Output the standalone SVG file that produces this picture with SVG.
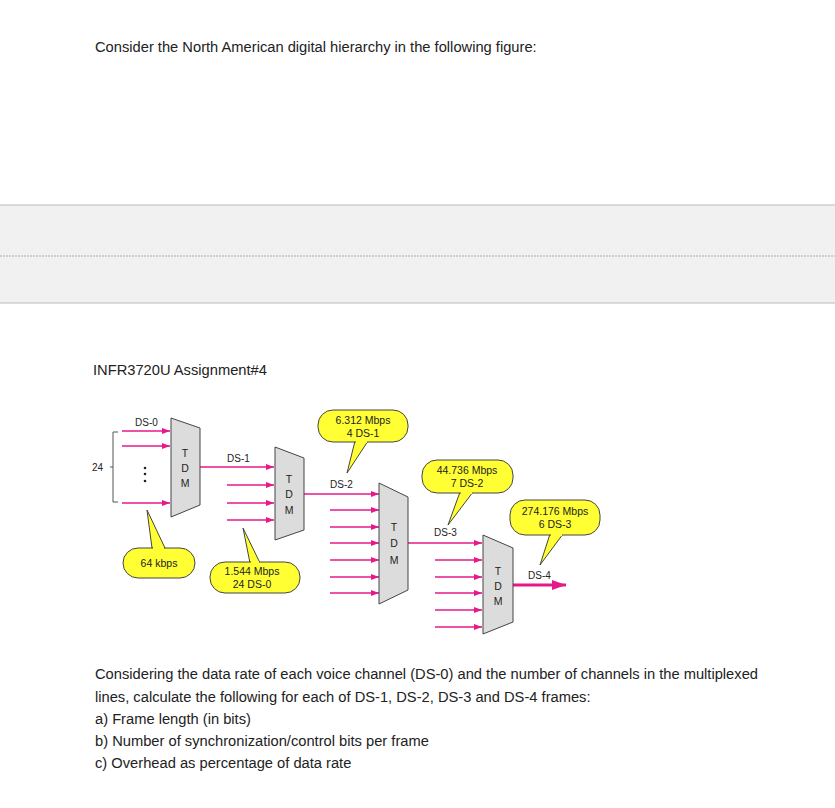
<svg xmlns="http://www.w3.org/2000/svg" width="835" height="808" viewBox="0 0 835 808">
<style>
.t{font-family:"Liberation Sans",Arial,sans-serif;font-size:14.7px;fill:#222}
.s{font-family:"Liberation Sans",Arial,sans-serif;font-size:10px;fill:#222}
.b{font-family:"Liberation Sans",Arial,sans-serif;font-size:10.5px;fill:#222;text-anchor:middle}
.m{fill:#dcdcdc;stroke:#444;stroke-width:1}
.c{fill:#ffff33;stroke:#444;stroke-width:1}
.a line{stroke:#e6198a;stroke-width:1.4;marker-end:url(#ah)}
</style>
<defs>
<marker id="ah" markerWidth="8" markerHeight="6" refX="8" refY="3" orient="auto" markerUnits="userSpaceOnUse"><path d="M0,0L8,3L0,6Z" fill="#e6198a"/></marker>
<marker id="ah2" markerWidth="14" markerHeight="10" refX="14" refY="5" orient="auto" markerUnits="userSpaceOnUse"><path d="M0,0L14,5L0,10Z" fill="#e6198a"/></marker>
</defs>
<rect width="835" height="808" fill="#fff"/>
<text class="t" x="95" y="52">Consider the North American digital hierarchy in the following figure:</text>
<rect x="0" y="205" width="835" height="98" fill="#f1f1f1"/>
<line x1="0" y1="205" x2="835" y2="205" stroke="#bbb"/>
<line x1="0" y1="303" x2="835" y2="303" stroke="#bbb"/>
<line x1="0" y1="256" x2="835" y2="256" stroke="#aaa" stroke-dasharray="2,1"/>
<text class="t" x="93" y="375">INFR3720U Assignment#4</text>

<g id="connectors" class="a">
<line x1="122" y1="431" x2="170" y2="431"/><line x1="122" y1="446" x2="170" y2="446"/><line x1="122" y1="503" x2="170" y2="503"/>
<line x1="200" y1="467" x2="274" y2="467"/><line x1="227" y1="485" x2="274" y2="485"/><line x1="227" y1="503" x2="274" y2="503"/><line x1="227" y1="520" x2="274" y2="520"/>
<line x1="304" y1="494" x2="379" y2="494"/><line x1="330" y1="510" x2="379" y2="510"/><line x1="330" y1="527" x2="379" y2="527"/><line x1="330" y1="543" x2="379" y2="543"/><line x1="330" y1="560" x2="379" y2="560"/><line x1="330" y1="577" x2="379" y2="577"/><line x1="330" y1="593" x2="379" y2="593"/>
<line x1="408" y1="543" x2="482" y2="543"/><line x1="435" y1="560" x2="482" y2="560"/><line x1="435" y1="577" x2="482" y2="577"/><line x1="435" y1="593" x2="482" y2="593"/><line x1="435" y1="610" x2="482" y2="610"/><line x1="435" y1="627" x2="482" y2="627"/>
<path d="M513,585H566" stroke="#e6198a" stroke-width="3" marker-end="url(#ah2)"/>
</g>

<g id="ds0">
<text class="s" x="135" y="426">DS-0</text>
<path d="M118,432H113V502H118M113,467H110" stroke="#555" fill="none"/>
<text class="s" x="92" y="471">24</text>
<circle cx="145" cy="468" r="1.3" fill="#222"/><circle cx="145" cy="474" r="1.3" fill="#222"/><circle cx="145" cy="481" r="1.3" fill="#222"/>
</g>
<g id="tdm1"><path class="m" d="M171,418L200,428V505L171,517Z"/><text class="b" x="185" y="457">T</text><text class="b" x="185" y="472">D</text><text class="b" x="185" y="487">M</text></g>
<g id="tdm2"><path class="m" d="M275,447L304,458V530L275,540Z"/><text class="b" x="289" y="483">T</text><text class="b" x="289" y="498">D</text><text class="b" x="289" y="514">M</text></g>
<g id="tdm3"><path class="m" d="M379,483L408,497V590L379,604Z"/><text class="b" x="394" y="531">T</text><text class="b" x="394" y="547">D</text><text class="b" x="394" y="564">M</text></g>
<g id="tdm4"><path class="m" d="M483,535L513,548V622L483,634Z"/><text class="b" x="498" y="575">T</text><text class="b" x="498" y="590">D</text><text class="b" x="498" y="605">M</text></g>
<g id="labels">
<text class="s" x="227" y="462">DS-1</text>
<text class="s" x="330" y="488">DS-2</text>
<text class="s" x="434" y="536">DS-3</text>
<text class="s" x="528" y="579">DS-4</text>
</g>
<g id="c1"><path class="c" d="M152,548L147,510L165,548Z"/><rect class="c" x="123" y="548" width="72" height="30" rx="15"/><path d="M153,548H164" stroke="#ffff33" stroke-width="2"/><text class="b" x="159" y="567">64 kbps</text></g>
<g id="c2"><path class="c" d="M250,563L243,528L260,563Z"/><rect class="c" x="210" y="562" width="90" height="31" rx="15"/><path d="M251,562H259" stroke="#ffff33" stroke-width="2"/><text class="b" x="252" y="575">1.544 Mbps</text><text class="b" x="252" y="588">24 DS-0</text></g>
<g id="c3"><path class="c" d="M355,441L347,473L368,441Z"/><rect class="c" x="318" y="410" width="90" height="32" rx="15"/><path d="M356,442H367" stroke="#ffff33" stroke-width="2"/><text class="b" x="363" y="424">6.312 Mbps</text><text class="b" x="363" y="437">4 DS-1</text></g>
<g id="c4"><path class="c" d="M460,492L448,525L473,492Z"/><rect class="c" x="422" y="460" width="91" height="33" rx="15"/><path d="M461,493H472" stroke="#ffff33" stroke-width="2"/><text class="b" x="467" y="474">44.736 Mbps</text><text class="b" x="467" y="487">7 DS-2</text></g>
<g id="c5"><path class="c" d="M550,534L540,565L563,534Z"/><rect class="c" x="510" y="500" width="90" height="35" rx="15"/><path d="M551,535H562" stroke="#ffff33" stroke-width="2"/><text class="b" x="555" y="515">274.176 Mbps</text><text class="b" x="555" y="528">6 DS-3</text></g>

<text class="t" x="95" y="679">Considering the data rate of each voice channel (DS-0) and the number of channels in the multiplexed</text>
<text class="t" x="95" y="702">lines, calculate the following for each of DS-1, DS-2, DS-3 and DS-4 frames:</text>
<text class="t" x="95" y="724">a) Frame length (in bits)</text>
<text class="t" x="95" y="746">b) Number of synchronization/control bits per frame</text>
<text class="t" x="95" y="768">c) Overhead as percentage of data rate</text>
</svg>
